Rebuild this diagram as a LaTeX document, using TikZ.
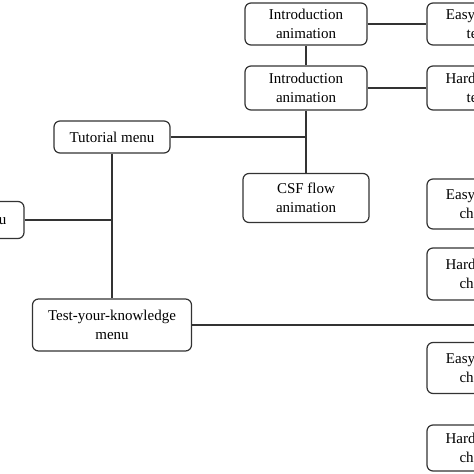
\documentclass[tikz,border=0pt]{standalone}
\usepackage{fontspec}
\setmainfont{Liberation Serif}
\usetikzlibrary{positioning}

\tikzset{
  menubox/.style={rectangle, draw=black!80, line width=1.2pt, rounded corners=6pt, align=center, inner sep=0pt, font=\fontsize{15}{19}\selectfont},
  link/.style={draw=black!80, line width=1.2pt}
}

\begin{document}
\begin{tikzpicture}[x=1pt, y=-1pt, node distance=64pt]
    \clip (0,0) rectangle (474,474);

    % menus on the left
    \node (mainmenu) [menubox, minimum width=104pt, minimum height=37pt] at (-28,220) {Main menu};
    \node (tutmenu) [menubox, minimum width=116pt, minimum height=32pt] at (112,137) {Tutorial menu};
    \node (testmenu) [menubox, minimum width=159pt, minimum height=52pt] at (112,325) {Test-your-knowledge\\menu};

    % tutorial branch
    \node (introA) [menubox, minimum width=122pt, minimum height=42pt] at (306,24) {Introduction\\animation};
    \node (introB) [menubox, below of=introA, minimum width=122pt, minimum height=44pt] {Introduction\\animation};
    \node (csf) [menubox, minimum width=126pt, minimum height=49pt] at (306,198) {CSF flow\\animation};

    % boxes on the right
    \node (easytut) [menubox, right of=introA, xshift=107pt, minimum width=100pt, minimum height=42pt] {Easy level\\test};
    \node (hardtut) [menubox, right of=introB, xshift=107pt, minimum width=100pt, minimum height=44pt] {Hard level\\test};
    \node (easychkA) [menubox, minimum width=100pt, minimum height=50pt] at (477,204) {Easy level\\check};
    \node (hardchkA) [menubox, minimum width=100pt, minimum height=52pt] at (477,274) {Hard level\\check};
    \node (easychkB) [menubox, minimum width=100pt, minimum height=51pt] at (477,368) {Easy level\\check};
    \node (hardchkB) [menubox, minimum width=100pt, minimum height=46pt] at (477,448) {Hard level\\check};
    \coordinate (testend) at (480,325);

    % lines
    \draw[link] (mainmenu.east) -- (tutmenu.south |- mainmenu.east);
    \draw[link] (tutmenu) -- (testmenu);
    \draw[link] (tutmenu.east) -- (introB.south |- tutmenu.east);
    \draw[link] (introA) -- (introB);
    \draw[link] (introB) -- (csf);
    \draw[link] (introA) -- (easytut);
    \draw[link] (introB) -- (hardtut);
    \draw[link] (testmenu.east) -- (testend);

\end{tikzpicture}
\end{document}
